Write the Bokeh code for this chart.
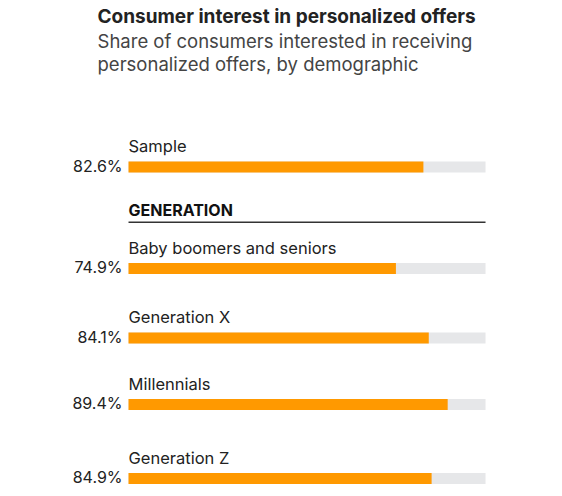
from bokeh.plotting import figure
from bokeh.models import Range1d
from bokeh.core.properties import value
from bokeh.embed import file_html
from bokeh.resources import INLINE

# data
categories = ["Sample", "Baby boomers and seniors", "Generation X",
              "Millennials", "Generation Z"]
shares = [82.6, 74.9, 84.1, 89.4, 84.9]
pct_labels = ["82.6%", "74.9%", "84.1%", "89.4%", "84.9%"]
group_name = "GENERATION"
title = "Consumer interest in personalized offers"
subtitle = ["Share of consumers interested in receiving",
            "personalized offers, by demographic"]

# layout (vertical rows, in px from top of the page)
row_y = [166.5, 268, 337.5, 404, 478]
FONT = "Inter"
ORANGE = "#ff9900"
TRACK = "#e6e7e9"

p = figure(width=546, height=490, output_backend="svg", toolbar_location=None,
           x_range=Range1d(-35.86, 117.08), y_range=Range1d(490, 0),
           min_border=0, outline_line_color=None)
p.axis.visible = False
p.grid.visible = False

# background track + value bar
p.hbar(y=row_y, left=0, right=[100] * len(row_y), height=11,
       color=TRACK, line_color=None)
p.hbar(y=row_y, left=0, right=shares, height=11,
       color=ORANGE, line_color=None)

# category names above bars
p.text(x=[0] * len(categories), y=[y - 21 for y in row_y], text=categories,
       text_font=value(FONT), text_font_size="16.5px", text_color="#222222",
       text_baseline="alphabetic", text_align="left")

# percentages left of bars
p.text(x=[0] * len(pct_labels), y=[y - 1.5 for y in row_y], text=pct_labels,
       x_offset=-6, text_font=value(FONT), text_font_size="16px",
       text_color="#222222", text_baseline="middle", text_align="right")

# group header + rule
p.text(x=[0], y=[209], text=[group_name], text_font=value(FONT),
       text_font_size="16px", text_font_style="bold", text_color="#111111",
       text_baseline="alphabetic")
p.segment(x0=[0], y0=[221.7], x1=[100], y1=[221.7],
          line_color="#333333", line_width=1.5)

# title / subtitle
p.text(x=[0], y=[16], text=[title], x_offset=-31, text_font=value(FONT),
       text_font_size="19px", text_font_style="bold", text_color="#222222",
       text_baseline="alphabetic")
p.text(x=[0, 0], y=[40, 63], text=subtitle, x_offset=-31,
       text_font=value(FONT), text_font_size="18.5px", text_color="#444444",
       text_baseline="alphabetic")

open("out.html", "w").write(file_html(p, INLINE))
